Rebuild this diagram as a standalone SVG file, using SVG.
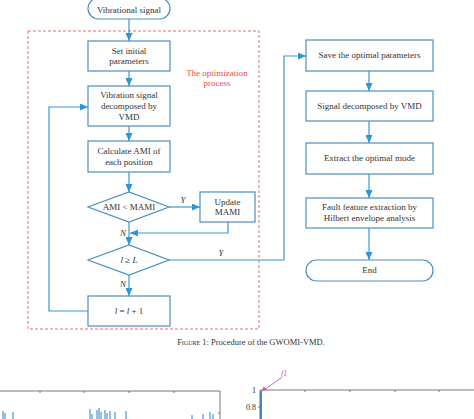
<svg xmlns="http://www.w3.org/2000/svg" width="474" height="419" viewBox="0 0 474 419">
<defs>
<marker id="ah" markerWidth="8" markerHeight="7" refX="8" refY="3.5" orient="auto" markerUnits="userSpaceOnUse">
<path d="M0,0 L8,3.5 L0,7 z" fill="#2f96d4"/>
</marker>
<style>
.box{fill:#ffffff;stroke:#4a8fc0;stroke-width:1.2}
.ln{fill:none;stroke:#3b98d2;stroke-width:1.2}
.t{font-family:"Liberation Serif","Times New Roman",serif;font-size:9px;fill:#333333;text-anchor:middle}
.lab{font-family:"Liberation Serif","Times New Roman",serif;font-size:9px;fill:#333333;font-style:italic;text-anchor:middle}
.red{font-family:"Liberation Serif","Times New Roman",serif;font-size:9px;fill:#e0503c;text-anchor:middle}
.ax{fill:none;stroke:#555555;stroke-width:0.8}
.bar{stroke:#2a7fc8;stroke-width:1}
.tick{font-family:"Liberation Serif","Times New Roman",serif;font-size:8px;fill:#333333;text-anchor:end}
</style>
</defs>
<rect width="474" height="419" fill="#ffffff"/>
<rect x="28" y="31" width="231" height="298" fill="none" stroke="#e06060" stroke-width="0.9" stroke-dasharray="3,2"/>
<text class="red" x="217" y="76">The optimization</text>
<text class="red" x="217" y="86">process</text>
<g id="connectors">
<line class="ln" x1="129" y1="19" x2="129" y2="41" marker-end="url(#ah)"/>
<line class="ln" x1="129" y1="71" x2="129" y2="86" marker-end="url(#ah)"/>
<line class="ln" x1="129" y1="126" x2="129" y2="141" marker-end="url(#ah)"/>
<line class="ln" x1="129" y1="172" x2="129" y2="192" marker-end="url(#ah)"/>
<line class="ln" x1="169" y1="207" x2="200" y2="207" marker-end="url(#ah)"/>
<polyline class="ln" points="228,222 228,233 130,233" marker-end="url(#ah)"/>
<line class="ln" x1="129" y1="222" x2="129" y2="245" marker-end="url(#ah)"/>
<line class="ln" x1="129" y1="275" x2="129" y2="296" marker-end="url(#ah)"/>
<polyline class="ln" points="88,311 49,311 49,107 88,107" marker-end="url(#ah)"/>
<polyline class="ln" points="169,260 284,260 284,56 306,56" marker-end="url(#ah)"/>
<line class="ln" x1="369" y1="71" x2="369" y2="91" marker-end="url(#ah)"/>
<line class="ln" x1="369" y1="121" x2="369" y2="143" marker-end="url(#ah)"/>
<line class="ln" x1="369" y1="174" x2="369" y2="198" marker-end="url(#ah)"/>
<line class="ln" x1="369" y1="228" x2="369" y2="260" marker-end="url(#ah)"/>
<text class="lab" x="183" y="203">Y</text>
<text class="lab" x="123" y="236">N</text>
<text class="lab" x="221" y="256">Y</text>
<text class="lab" x="123" y="287">N</text>
</g>
<g id="start">
<rect class="box" x="88" y="-2" width="82" height="21" rx="10.5"/>
<text class="t" x="129" y="13">Vibrational signal</text>
</g>
<g id="init">
<rect class="box" x="88" y="41" width="82" height="30"/>
<text class="t" x="129" y="54">Set initial</text>
<text class="t" x="129" y="64">parameters</text>
</g>
<g id="vmd1">
<rect class="box" x="88" y="86" width="82" height="40"/>
<text class="t" x="129" y="98">Vibration signal</text>
<text class="t" x="129" y="109">decomposed by</text>
<text class="t" x="129" y="120">VMD</text>
</g>
<g id="ami">
<rect class="box" x="88" y="141" width="82" height="31"/>
<text class="t" x="129" y="154">Calculate AMI of</text>
<text class="t" x="129" y="165">each position</text>
</g>
<g id="dec1">
<polygon class="box" points="88,207 129,192 169,207 129,222"/>
<text class="t" x="129" y="210">AMI &lt; MAMI</text>
</g>
<g id="update">
<rect class="box" x="200" y="192" width="55" height="30"/>
<text class="t" x="227.5" y="205">Update</text>
<text class="t" x="227.5" y="215">MAMI</text>
</g>
<g id="dec2">
<polygon class="box" points="88,260 129,245 169,260 129,275"/>
<text class="t" x="129" y="263"><tspan font-style="italic">l</tspan> ≥ <tspan font-style="italic">L</tspan></text>
</g>
<g id="incr">
<rect class="box" x="88" y="296" width="82" height="30"/>
<text class="t" x="129" y="314"><tspan font-style="italic">l</tspan> = <tspan font-style="italic">l</tspan> + 1</text>
</g>
<g id="save">
<rect class="box" x="306" y="40" width="127" height="31"/>
<text class="t" x="369.5" y="58">Save the optimal parameters</text>
</g>
<g id="vmd2">
<rect class="box" x="306" y="91" width="127" height="30"/>
<text class="t" x="369.5" y="109">Signal decomposed by VMD</text>
</g>
<g id="extract">
<rect class="box" x="306" y="143" width="127" height="31"/>
<text class="t" x="369.5" y="161">Extract the optimal mode</text>
</g>
<g id="fault">
<rect class="box" x="306" y="198" width="127" height="30"/>
<text class="t" x="369.5" y="210">Fault feature extraction by</text>
<text class="t" x="369.5" y="221">Hilbert envelope analysis</text>
</g>
<g id="end">
<rect class="box" x="306" y="260" width="127" height="21" rx="10.5"/>
<text class="t" x="369.5" y="273">End</text>
</g>
<text x="251" y="345" font-family="Liberation Serif, Times New Roman, serif" font-size="8.5px" fill="#333333" text-anchor="middle"><tspan font-variant="small-caps">Figure</tspan> 1: Procedure of the GWOMI-VMD.</text>
<g id="plot-left">
<polyline class="ax" points="0,391 220,391 220,419"/>
<line class="ax" x1="40" y1="391" x2="40" y2="393"/>
<line class="ax" x1="84" y1="391" x2="84" y2="393"/>
<line class="ax" x1="129" y1="391" x2="129" y2="393"/>
<line class="ax" x1="174" y1="391" x2="174" y2="393"/>
<line class="ax" x1="218" y1="413" x2="220" y2="413"/>
<line class="bar" x1="3" y1="419" x2="3" y2="411"/>
<line class="bar" x1="5" y1="419" x2="5" y2="413"/>
<line class="bar" x1="13" y1="419" x2="13" y2="412"/>
<line class="bar" x1="90" y1="419" x2="90" y2="409"/>
<line class="bar" x1="92" y1="419" x2="92" y2="414"/>
<line class="bar" x1="97" y1="419" x2="97" y2="410"/>
<line class="bar" x1="99" y1="419" x2="99" y2="408"/>
<line class="bar" x1="101" y1="419" x2="101" y2="412"/>
<line class="bar" x1="105" y1="419" x2="105" y2="410"/>
<line class="bar" x1="107" y1="419" x2="107" y2="413"/>
<line class="bar" x1="110" y1="419" x2="110" y2="411"/>
<line class="bar" x1="115" y1="419" x2="115" y2="412"/>
<line class="bar" x1="126" y1="419" x2="126" y2="411"/>
<line class="bar" x1="192" y1="419" x2="192" y2="415"/>
<line class="bar" x1="203" y1="419" x2="203" y2="414"/>
<line class="bar" x1="210" y1="419" x2="210" y2="412"/>
<line class="bar" x1="213" y1="419" x2="213" y2="414"/>
</g>
<g id="plot-right">
<polyline class="ax" points="260,419 260,390 474,390"/>
<line class="ax" x1="305" y1="390" x2="305" y2="392"/>
<line class="ax" x1="350" y1="390" x2="350" y2="392"/>
<line class="ax" x1="395" y1="390" x2="395" y2="392"/>
<line class="ax" x1="439" y1="390" x2="439" y2="392"/>
<line class="ax" x1="258" y1="407" x2="260" y2="407"/>
<text class="tick" x="256" y="393">1</text>
<text class="tick" x="256" y="410">0.8</text>
<line x1="261" y1="391" x2="261" y2="419" stroke="#1f6fb5" stroke-width="1.6"/>
<line x1="281" y1="378" x2="264" y2="390" stroke="#d050c0" stroke-width="0.9"/>
<path d="M262,391.5 L263.5,386.5 L267,389.5 z" fill="#d050c0"/>
<text x="281" y="376" font-family="Liberation Serif, Times New Roman, serif" font-size="8px" font-style="italic" fill="#d050c0">f1</text>
</g>
</svg>
